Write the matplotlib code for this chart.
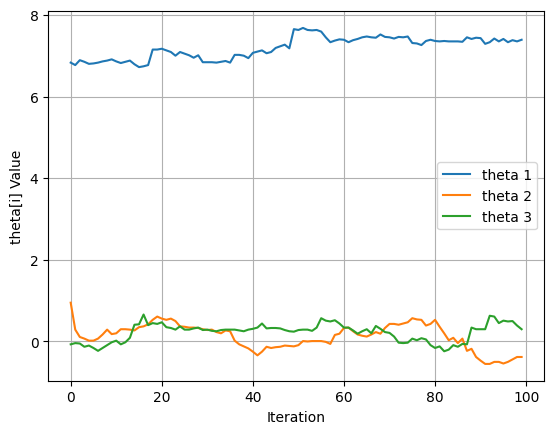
import matplotlib
matplotlib.use("Agg")
import matplotlib.pyplot as plt
import numpy as np

iterations = list(range(100))

theta1 = [6.83, 6.77, 6.89, 6.85, 6.80, 6.81, 6.83, 6.86, 6.88, 6.91,
          6.86, 6.82, 6.85, 6.88, 6.79, 6.72, 6.74, 6.77, 7.15, 7.15,
          7.17, 7.13, 7.09, 7.00, 7.09, 7.05, 7.01, 6.95, 7.01, 6.84,
          6.84, 6.84, 6.83, 6.85, 6.87, 6.83, 7.02, 7.02, 7.00, 6.94,
          7.07, 7.10, 7.13, 7.06, 7.09, 7.19, 7.23, 7.27, 7.18, 7.65,
          7.63, 7.68, 7.63, 7.62, 7.63, 7.59, 7.45, 7.33, 7.37, 7.40,
          7.39, 7.33, 7.38, 7.41, 7.45, 7.47, 7.45, 7.44, 7.52, 7.46,
          7.45, 7.42, 7.46, 7.45, 7.47, 7.31, 7.30, 7.26, 7.36, 7.39,
          7.36, 7.35, 7.36, 7.35, 7.35, 7.35, 7.34, 7.45, 7.41, 7.44,
          7.43, 7.29, 7.33, 7.42, 7.35, 7.41, 7.33, 7.38, 7.35, 7.39]

theta2 = [0.95, 0.29, 0.11, 0.07, 0.02, 0.02, 0.07, 0.17, 0.29, 0.18,
          0.20, 0.30, 0.30, 0.29, 0.27, 0.35, 0.37, 0.42, 0.53, 0.61,
          0.56, 0.53, 0.56, 0.50, 0.37, 0.36, 0.34, 0.34, 0.33, 0.30,
          0.28, 0.29, 0.23, 0.20, 0.27, 0.25, 0.02, -0.07, -0.12, -0.17,
          -0.25, -0.34, -0.25, -0.13, -0.16, -0.14, -0.13, -0.10, -0.11, -0.12,
          -0.09, 0.01, 0.00, 0.01, 0.01, 0.01, -0.01, -0.06, 0.16, 0.19,
          0.33, 0.34, 0.25, 0.17, 0.14, 0.12, 0.17, 0.23, 0.19, 0.33,
          0.43, 0.43, 0.41, 0.44, 0.47, 0.57, 0.54, 0.53, 0.39, 0.43,
          0.53, 0.36, 0.20, 0.03, 0.09, -0.04, 0.07, -0.23, -0.18, -0.38,
          -0.47, -0.55, -0.55, -0.50, -0.50, -0.54, -0.50, -0.44, -0.38, -0.38]

theta3 = [-0.07, -0.04, -0.05, -0.13, -0.10, -0.16, -0.23, -0.16, -0.09, -0.02,
          0.02, -0.07, -0.02, 0.09, 0.41, 0.42, 0.66, 0.40, 0.45, 0.43,
          0.47, 0.35, 0.33, 0.29, 0.37, 0.29, 0.29, 0.32, 0.34, 0.28,
          0.29, 0.26, 0.25, 0.28, 0.29, 0.29, 0.29, 0.27, 0.25, 0.29,
          0.31, 0.34, 0.44, 0.32, 0.33, 0.33, 0.32, 0.28, 0.25, 0.24,
          0.28, 0.29, 0.29, 0.26, 0.34, 0.57, 0.51, 0.49, 0.52, 0.44,
          0.34, 0.34, 0.27, 0.19, 0.25, 0.30, 0.20, 0.38, 0.31, 0.23,
          0.21, 0.12, -0.03, -0.04, -0.03, 0.07, 0.03, 0.08, 0.05, -0.09,
          -0.16, -0.12, -0.24, -0.20, -0.09, -0.13, -0.06, -0.07, 0.34, 0.30,
          0.30, 0.30, 0.63, 0.61, 0.45, 0.51, 0.49, 0.50, 0.39, 0.30]

series = [theta1, theta2, theta3]
labels = ["theta 1", "theta 2", "theta 3"]

fig, ax = plt.subplots(figsize=(6.4, 4.8), dpi=100)
for vals, lab in zip(series, labels):
    ax.plot(iterations, vals, label=lab)
ax.set_xlabel("Iteration")
ax.set_ylabel("theta[i] Value")
ax.grid(True)
ax.legend(loc="center right")
fig.savefig("out.png", dpi=100, bbox_inches="tight")
